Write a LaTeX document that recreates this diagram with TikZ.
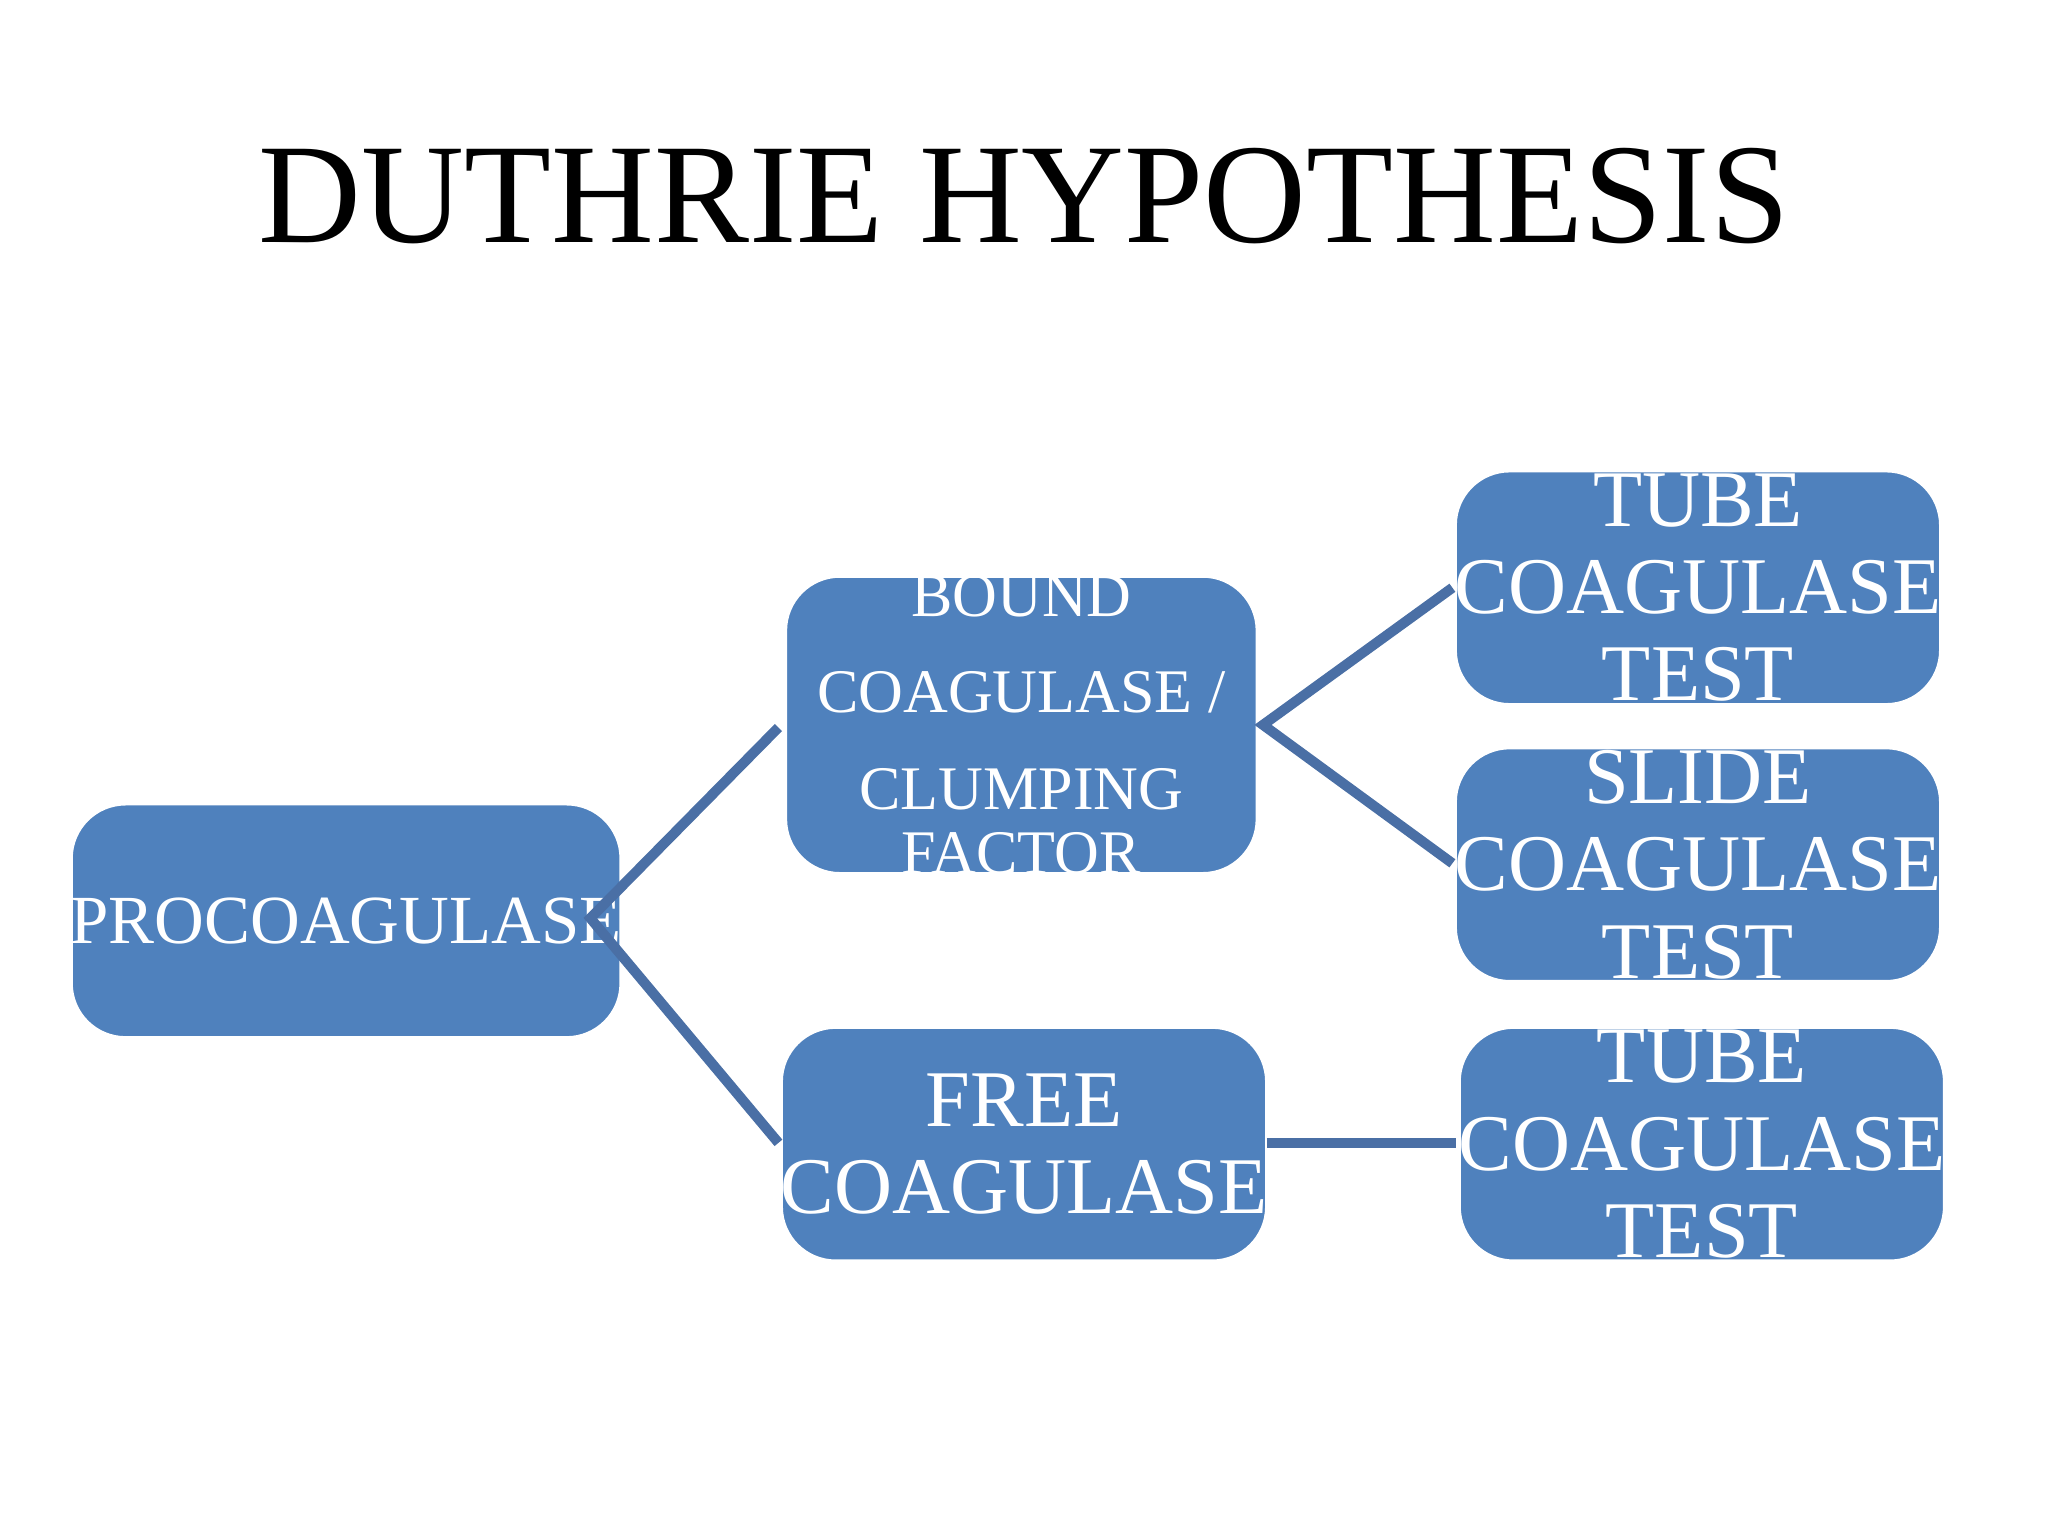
\documentclass[tikz,border=0pt]{standalone}
\usepackage{fontspec}
\setmainfont{Liberation Serif}
\definecolor{boxblue}{HTML}{4F81BD}
\definecolor{linkblue}{HTML}{4A6FA5}
\begin{document}
\begin{tikzpicture}[x=0.01cm,y=-0.01cm,
  box/.style={draw=white,line width=1pt,fill=boxblue,rounded corners=12pt,text=white,align=center,inner sep=0pt},
  link/.style={draw=linkblue,line width=2.2pt}]
\useasboundingbox (0,0) rectangle (1568,1176);
\node[font=\fontsize{31}{36}\selectfont] (title) at (784,150) {DUTHRIE HYPOTHESIS};
\node[box,minimum width=3.66cm,minimum height=1.8cm,font=\fontsize{15}{18}\selectfont] (proco) at (265,705) {PROCOAGULASE};
\node[box,minimum width=3.62cm,minimum height=2.25cm,font=\fontsize{13.5}{21}\selectfont] (bound) at (782,555) {BOUND\\COAGULASE /\\CLUMPING\\[-7pt]FACTOR};
\node[box,minimum width=3.66cm,minimum height=1.8cm,font=\fontsize{17.5}{19}\selectfont] (free) at (784,876) {FREE\\COAGULASE};
\node[box,minimum width=3.65cm,minimum height=1.8cm,font=\fontsize{17.5}{19}\selectfont] (tube1) at (1300,450) {TUBE\\COAGULASE\\TEST};
\node[box,minimum width=3.65cm,minimum height=1.8cm,font=\fontsize{17.5}{19}\selectfont] (slide) at (1300,662) {SLIDE\\COAGULASE\\TEST};
\node[box,minimum width=3.66cm,minimum height=1.8cm,font=\fontsize{17.5}{19}\selectfont] (tube2) at (1303,876) {TUBE\\COAGULASE\\TEST};
\coordinate (p) at (452,703);
\coordinate (b1) at (596,557);
\coordinate (f1) at (596,875);
\coordinate (b) at (967,555);
\coordinate (t1) at (1112,450);
\coordinate (s1) at (1112,661);
\coordinate (f) at (970,875);
\coordinate (t2) at (1115,875);
\draw[link] (b1) -- (p) -- (f1);
\draw[link] (t1) -- (b) -- (s1);
\draw[link] (f) -- (t2);
\end{tikzpicture}
\end{document}
